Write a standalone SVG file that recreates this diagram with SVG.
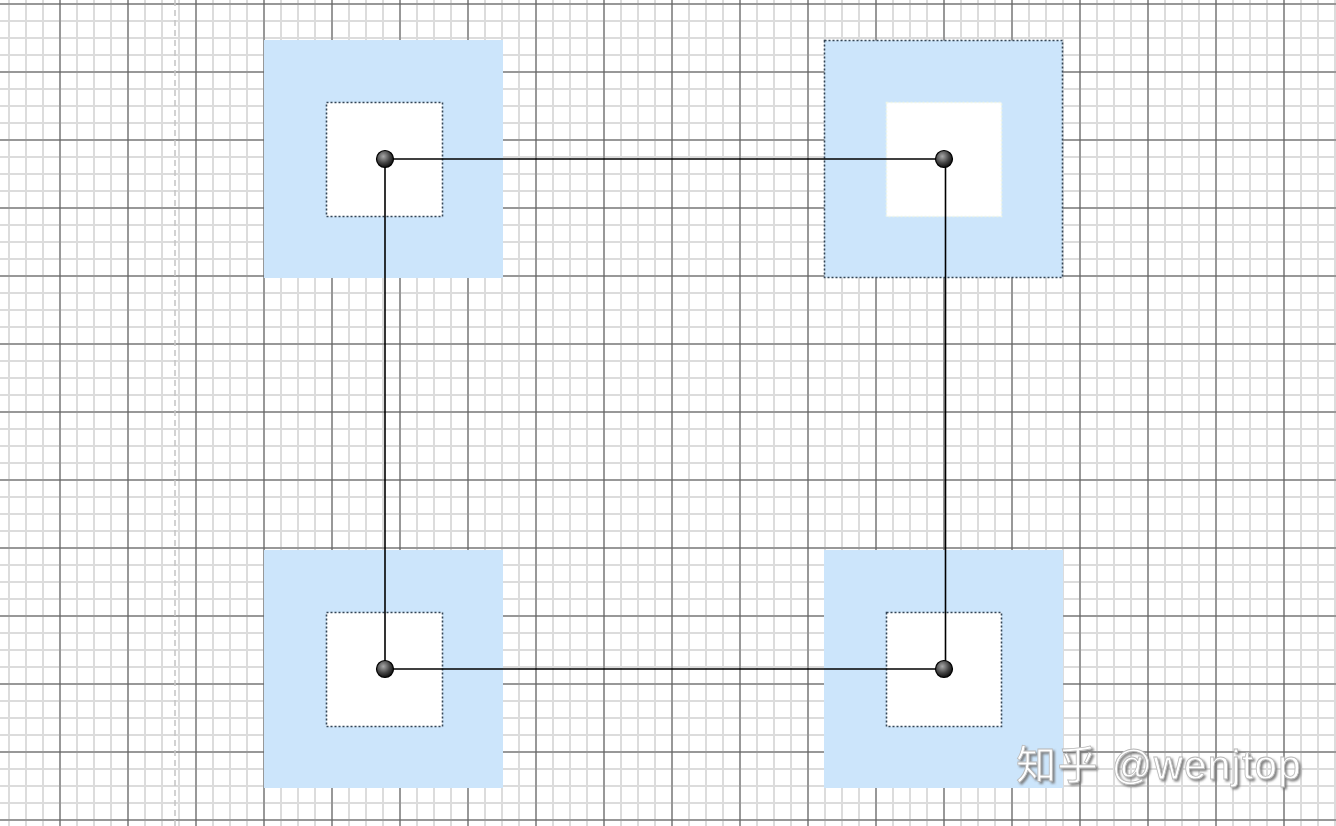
<svg xmlns="http://www.w3.org/2000/svg" width="1336" height="826" viewBox="0 0 1336 826">
  <defs>
    <pattern id="grid" patternUnits="userSpaceOnUse" x="52" y="-4" width="68" height="68">
      <rect x="0" y="0" width="68" height="68" fill="#ffffff"/>
      <g fill="#dcdcdc">
        <rect x="7" y="0" width="2" height="68"/>
        <rect x="24" y="0" width="2" height="68"/>
        <rect x="41" y="0" width="2" height="68"/>
        <rect x="58" y="0" width="2" height="68"/>
        <rect x="0" y="7" width="68" height="2"/>
        <rect x="0" y="24" width="68" height="2"/>
        <rect x="0" y="41" width="68" height="2"/>
        <rect x="0" y="58" width="68" height="2"/>
      </g>
      <g fill="#555555">
        <rect x="7.5" y="0" width="1" height="68"/>
        <rect x="0" y="7.5" width="68" height="1"/>
      </g>
    </pattern>
    <radialGradient id="ball" cx="0.4" cy="0.35" r="0.65">
      <stop offset="0" stop-color="#a8a8a8"/>
      <stop offset="0.6" stop-color="#444444"/>
      <stop offset="1" stop-color="#111111"/>
    </radialGradient>
    <filter id="wmShadow" x="-5%" y="-20%" width="110%" height="140%">
      <feDropShadow dx="2" dy="2" stdDeviation="1" flood-color="#777777" flood-opacity="0.9"/>
    </filter>
  </defs>
  <style>
    .outer { fill: #cce5fb; }
    .outer-sel { fill: #cce5fb; stroke: #334455; stroke-width: 1.6; stroke-dasharray: 2 2; }
    .inner { fill: #ffffff; stroke: #334455; stroke-width: 1.6; stroke-dasharray: 2 2; }
    .inner-light { fill: #ffffff; stroke: #eef5e8; stroke-width: 1.6; stroke-dasharray: 2 2; }
    .conn { fill: none; stroke: #000000; stroke-width: 1.6; }
    .pt { fill: url(#ball); stroke: #000000; stroke-width: 1.2; }
    .wm { font-family: "Liberation Sans", "Noto Sans CJK SC", sans-serif; font-size: 40px; letter-spacing: 1.5px; fill: #ffffff; stroke: #b8b8b8; stroke-width: 0.8; }
  </style>

  <rect x="0" y="0" width="1336" height="826" fill="url(#grid)"/>
  <line x1="175" y1="0" x2="175" y2="826" stroke="#c4c4c4" stroke-width="1.5" stroke-dasharray="6 4"/>

  <g id="node-top-left">
    <rect class="outer" x="264" y="40" width="239" height="238"/>
    <rect class="inner" x="326.5" y="102.5" width="116" height="114"/>
  </g>
  <g id="node-top-right">
    <rect class="outer-sel" x="824.5" y="40.5" width="238" height="237"/>
    <rect class="inner-light" x="886.5" y="102.5" width="115" height="114"/>
  </g>
  <g id="node-bottom-left">
    <rect class="outer" x="264" y="550" width="239" height="238"/>
    <rect class="inner" x="326.5" y="612.5" width="116" height="114"/>
  </g>
  <g id="node-bottom-right">
    <rect class="outer" x="824" y="550" width="239" height="238"/>
    <rect class="inner" x="886.5" y="612.5" width="115" height="114"/>
  </g>

  <g id="connectors">
    <path class="conn" d="M385 159 H944"/>
    <path class="conn" d="M385 159 V669"/>
    <path class="conn" d="M385 669 H944"/>
    <path class="conn" d="M945.5 159 V669"/>
  </g>

  <g id="points">
    <circle class="pt" cx="385" cy="159" r="8.5"/>
    <circle class="pt" cx="944" cy="159" r="8.5"/>
    <circle class="pt" cx="385" cy="669" r="8.5"/>
    <circle class="pt" cx="944" cy="669" r="8.5"/>
  </g>

  <text class="wm" x="1016" y="779" filter="url(#wmShadow)">知乎 @wenjtop</text>
</svg>
